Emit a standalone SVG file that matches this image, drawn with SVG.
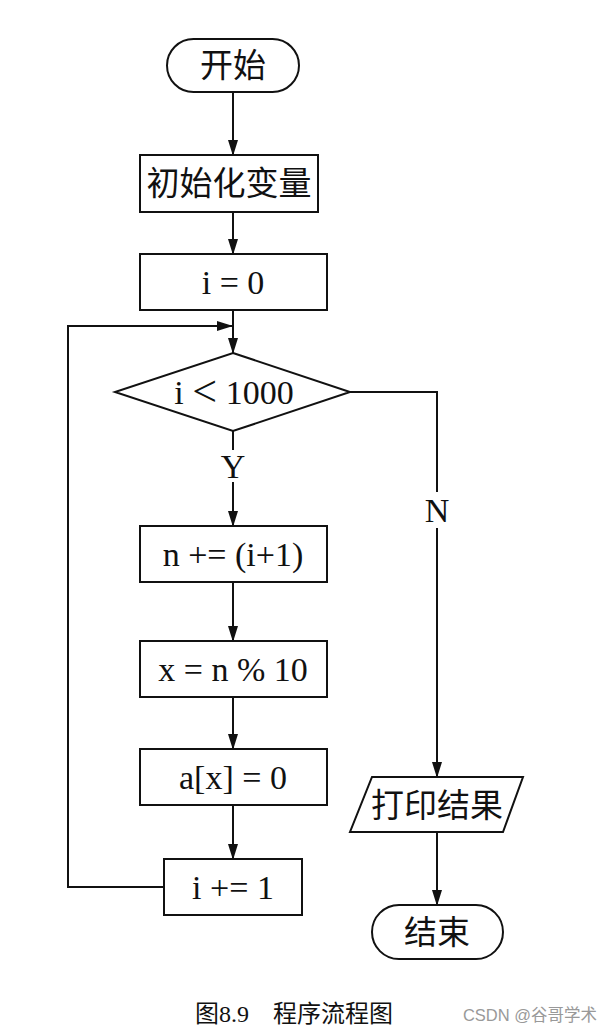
<svg xmlns="http://www.w3.org/2000/svg" width="613" height="1033" viewBox="0 0 613 1033">
<style>
.s{fill:#fff;stroke:#111;stroke-width:2}
.c{fill:none;stroke:#111;stroke-width:2}
.cn{font-family:"Noto Sans CJK SC","Noto Sans CJK JP",sans-serif;font-size:33px;fill:#111;text-anchor:middle}
.m{font-family:"Liberation Serif",serif;font-size:34px;fill:#111;text-anchor:middle}
</style>
<defs>
<marker id="a" markerWidth="16" markerHeight="10" refX="15" refY="5" orient="auto" markerUnits="userSpaceOnUse">
<path d="M0,0 L16,5 L0,10 Z" fill="#111"/>
</marker>
</defs>
<rect width="613" height="1033" fill="#fff"/>
<g id="connectors">
<line class="c" x1="233" y1="92" x2="233" y2="155" marker-end="url(#a)"/>
<line class="c" x1="233" y1="212" x2="233" y2="254" marker-end="url(#a)"/>
<line class="c" x1="233" y1="310" x2="233" y2="353" marker-end="url(#a)"/>
<line class="c" x1="233" y1="431" x2="233" y2="450"/>
<line class="c" x1="233" y1="482" x2="233" y2="526" marker-end="url(#a)"/>
<line class="c" x1="233" y1="582" x2="233" y2="641" marker-end="url(#a)"/>
<line class="c" x1="233" y1="697" x2="233" y2="749" marker-end="url(#a)"/>
<line class="c" x1="233" y1="805" x2="233" y2="859" marker-end="url(#a)"/>
<polyline class="c" points="164,887 68,887 68,326 232,326" marker-end="url(#a)"/>
<polyline class="c" points="350,392 437,392 437,492"/>
<line class="c" x1="437" y1="528" x2="437" y2="777" marker-end="url(#a)"/>
<line class="c" x1="437" y1="832" x2="437" y2="905" marker-end="url(#a)"/>
<text class="m" x="233" y="478">Y</text>
<text class="m" x="437" y="522">N</text>
</g>
<g id="start">
<rect class="s" x="167" y="39" width="132" height="53" rx="26.5"/>
<text class="cn" x="233" y="77">开始</text>
</g>
<g id="init">
<rect class="s" x="140" y="155" width="178" height="57"/>
<text class="cn" x="229" y="195">初始化变量</text>
</g>
<g id="i0">
<rect class="s" x="140" y="254" width="187" height="56"/>
<text class="m" x="233" y="294">i = 0</text>
</g>
<g id="cond">
<polygon class="s" points="233,353 350,392 233,431 115,392"/>
<text class="m" x="234" y="404">i <tspan font-size="44" dy="2">&lt;</tspan><tspan dy="-2"> 1000</tspan></text>
</g>
<g id="n">
<rect class="s" x="140" y="526" width="187" height="56"/>
<text class="m" x="233" y="566">n += (i+1)</text>
</g>
<g id="x">
<rect class="s" x="140" y="641" width="187" height="56"/>
<text class="m" x="233" y="681">x = n % 10</text>
</g>
<g id="ax">
<rect class="s" x="140" y="749" width="187" height="56"/>
<text class="m" x="233" y="789">a[x] = 0</text>
</g>
<g id="inc">
<rect class="s" x="164" y="859" width="138" height="56"/>
<text class="m" x="233" y="899">i += 1</text>
</g>
<g id="print">
<polygon class="s" points="372,777 523,777 503,832 350,832"/>
<text class="cn" x="437" y="817">打印结果</text>
</g>
<g id="end">
<rect class="s" x="372" y="905" width="131" height="54" rx="27"/>
<text class="cn" x="437" y="944">结束</text>
</g>
<text x="294" y="1022" font-family="'Liberation Serif','Noto Sans CJK SC',serif" font-size="24" fill="#111" text-anchor="middle">图8.9　程序流程图</text>
<text x="530" y="1021" font-family="'Liberation Sans','Noto Sans CJK SC',sans-serif" font-size="16.5" fill="#999" text-anchor="middle">CSDN @谷哥学术</text>
</svg>
